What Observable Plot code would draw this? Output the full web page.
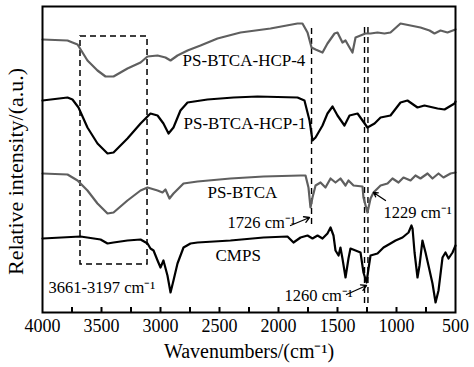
<!DOCTYPE html>
<html>
<head>
<meta charset="utf-8">
<script src="https://cdn.jsdelivr.net/npm/d3@7"></script>
<script src="https://cdn.jsdelivr.net/npm/@observablehq/plot@0.6"></script>
<style>
  html, body { margin: 0; padding: 0; background: #fff; }
</style>
</head>
<body>
<div id="chart"></div>
<script>
// ---- Spectra (wavenumber in cm-1, relative intensity in a.u.) ----
const hcp4Wn = [4000,3788,3746,3703,3619,3534,3466,3398,3280,3169,3110,3025,2958,2915,2856,2771,2661,2517,2322,2068,1839,1797,1754,1720,1686,1627,1585,1525,1500,1458,1432,1398,1373,1347,1305,1263,1220,1161,1102,1051,966,881,797,720,678,627,568,500];
const hcp4I  = [273,272,270,268,252,242,236,236,244,250,256,257,255,252,257,262,267,274,280,284,289,289,280,265,263,260,269,279,280,270,272,265,260,275,277,279,279,280,279,280,289,287,285,282,279,282,280,283];

const hcp1Wn = [4000,3788,3746,3695,3619,3534,3449,3398,3280,3169,3085,3025,2975,2932,2890,2831,2771,2602,2381,2178,1839,1780,1737,1712,1686,1627,1585,1542,1500,1441,1398,1330,1288,1246,1186,1135,1051,966,907,822,763,652,593,508,500];
const hcp1I  = [212,215,213,205,185,169,159,160,174,189,199,197,189,179,185,202,210,213,215,216,215,212,192,172,175,187,199,206,197,187,197,199,192,185,189,195,197,210,212,205,207,204,203,209,211];

const btcaWn = [4000,3788,3703,3619,3534,3449,3398,3280,3169,3110,3025,2983,2958,2924,2890,2805,2686,2407,2127,1813,1771,1746,1729,1712,1686,1644,1602,1559,1517,1475,1432,1407,1364,1288,1280,1246,1220,1195,1135,1076,1034,983,941,881,839,797,737,695,644,602,542,500];
const btcaI  = [139,138,132,122,109,99,100,112,122,125,122,120,123,114,119,129,131,134,136,137,137,125,105,115,127,130,125,134,130,134,127,132,127,126,115,100,114,120,127,129,134,130,135,132,137,134,139,134,139,135,139,140];

const cmpsWn = [4000,3678,3508,3449,3398,3280,3169,3110,3085,3059,3025,3000,2975,2941,2915,2890,2856,2805,2746,2686,2407,2127,1924,1873,1813,1754,1712,1669,1627,1585,1559,1534,1517,1491,1475,1458,1432,1407,1390,1347,1305,1280,1254,1237,1220,1161,1110,1051,1008,949,898,873,864,847,822,805,780,754,729,695,669,644,610,585,559,525,500];
const cmpsI  = [74,76,73,69,70,72,73,69,64,62,52,45,52,37,20,32,49,65,69,70,72,75,76,70,75,77,74,77,74,79,85,77,62,57,65,54,35,54,64,62,60,40,30,44,57,59,65,69,72,75,80,87,84,60,35,47,72,60,47,29,10,22,55,60,54,60,67];

const seriesNames  = ["PS-BTCA-HCP-4", "PS-BTCA-HCP-1", "PS-BTCA", "CMPS"];
const seriesColors = ["#5f5f5f", "#000000", "#5f5f5f", "#000000"];

// ---- Labels ----
const labelWn = [2813, 2805, 2602, 2534];
const labelI  = [252, 189, 120, 57];

const noteText = ["1726 cm\u207B\u00B9", "1229 cm\u207B\u00B9", "1260 cm\u207B\u00B9", "3661-3197 cm\u207B\u00B9"];
const noteWn   = [2432, 1110, 1949, 3949];
const noteI    = [90, 100, 17, 25];

// arrows (tail -> head)
const arrowWn1 = [1898, 1093, 1424];
const arrowI1  = [87, 112, 18];
const arrowWn2 = [1737, 1195, 1254];
const arrowI2  = [95, 120, 27];

// dashed guide lines
const guideWn = [1720, 1271, 1242];
const guideI1 = [88, 9, 9];
const guideI2 = [284, 287, 287];

// dashed box for O-H region
const boxWn = [3678, 3110];
const boxI  = [48, 276];

// axis ticks
const majorTicks = [4000, 3500, 3000, 2500, 2000, 1500, 1000, 500];
const minorTicks = [3750, 3500, 3250, 3000, 2750, 2500, 2250, 2000, 1750, 1500, 1250, 1000, 750];

const xLabel = "Wavenumbers/(cm\u207B\u00B9)";
const yLabel = "Relative intensity/(a.u.)";

// ---- Build tables ----
const allWn = [hcp4Wn, hcp1Wn, btcaWn, cmpsWn];
const allI  = [hcp4I, hcp1I, btcaI, cmpsI];
const spectra = seriesNames.flatMap((name, s) =>
  allWn[s].map((w, i) => ({series: name, wn: w, v: allI[s][i]})));
const labels = seriesNames.map((name, i) => ({text: name, wn: labelWn[i], v: labelI[i]}));
const notes = noteText.map((t, i) => ({text: t, wn: noteWn[i], v: noteI[i]}));
const arrows = arrowWn1.map((w, i) => ({x1: w, y1: arrowI1[i], x2: arrowWn2[i], y2: arrowI2[i]}));
const guides = guideWn.map((w, i) => ({wn: w, y1: guideI1[i], y2: guideI2[i]}));
const box = [{x1: boxWn[0], x2: boxWn[1], y1: boxI[0], y2: boxI[1]}];

const serif = "'Liberation Serif', 'Times New Roman', serif";

const chart = Plot.plot({
  width: 474,
  height: 367,
  marginLeft: 42,
  marginRight: 19,
  marginTop: 6,
  marginBottom: 55,
  style: {fontFamily: serif, background: "#fff", color: "#000"},
  x: {domain: [4000, 500], axis: null},
  y: {domain: [0, 306], axis: null},
  color: {domain: seriesNames, range: seriesColors},
  marks: [
    Plot.rect(box, {x1: "x1", x2: "x2", y1: "y1", y2: "y2", fill: "none", stroke: "#000", strokeWidth: 1.5, strokeDasharray: "6,4"}),
    Plot.ruleX(guides, {x: "wn", y1: "y1", y2: "y2", stroke: "#000", strokeWidth: 1.4, strokeDasharray: "6,4"}),
    Plot.line(spectra, {x: "wn", y: "v", z: "series", stroke: "series", strokeWidth: 2.2, strokeLinejoin: "round"}),
    Plot.text(labels, {x: "wn", y: "v", text: "text", textAnchor: "start", lineAnchor: "middle", fontSize: 17, fill: "#000"}),
    Plot.text(notes, {x: "wn", y: "v", text: "text", textAnchor: "start", lineAnchor: "middle", fontSize: 16.5, fill: "#000"}),
    Plot.arrow(arrows, {x1: "x1", y1: "y1", x2: "x2", y2: "y2", stroke: "#000", strokeWidth: 1.3, headLength: 7}),
    Plot.ruleX(minorTicks, {x: d => d, insetTop: 301, stroke: "#000", strokeWidth: 2}),
    Plot.axisX(majorTicks, {tickSize: 0, tickPadding: 7, fontSize: 18, tickFormat: d => String(d), label: null}),
    Plot.text([xLabel], {frameAnchor: "bottom", textAnchor: "middle", lineAnchor: "middle", dy: 39, fontSize: 20, fill: "#000"}),
    Plot.text([yLabel], {frameAnchor: "left", textAnchor: "middle", lineAnchor: "middle", rotate: -90, dx: -27, dy: 12, fontSize: 22, fill: "#000"}),
    Plot.frame({stroke: "#000", strokeWidth: 2})
  ]
});
document.getElementById("chart").appendChild(chart);
</script>
</body>
</html>
